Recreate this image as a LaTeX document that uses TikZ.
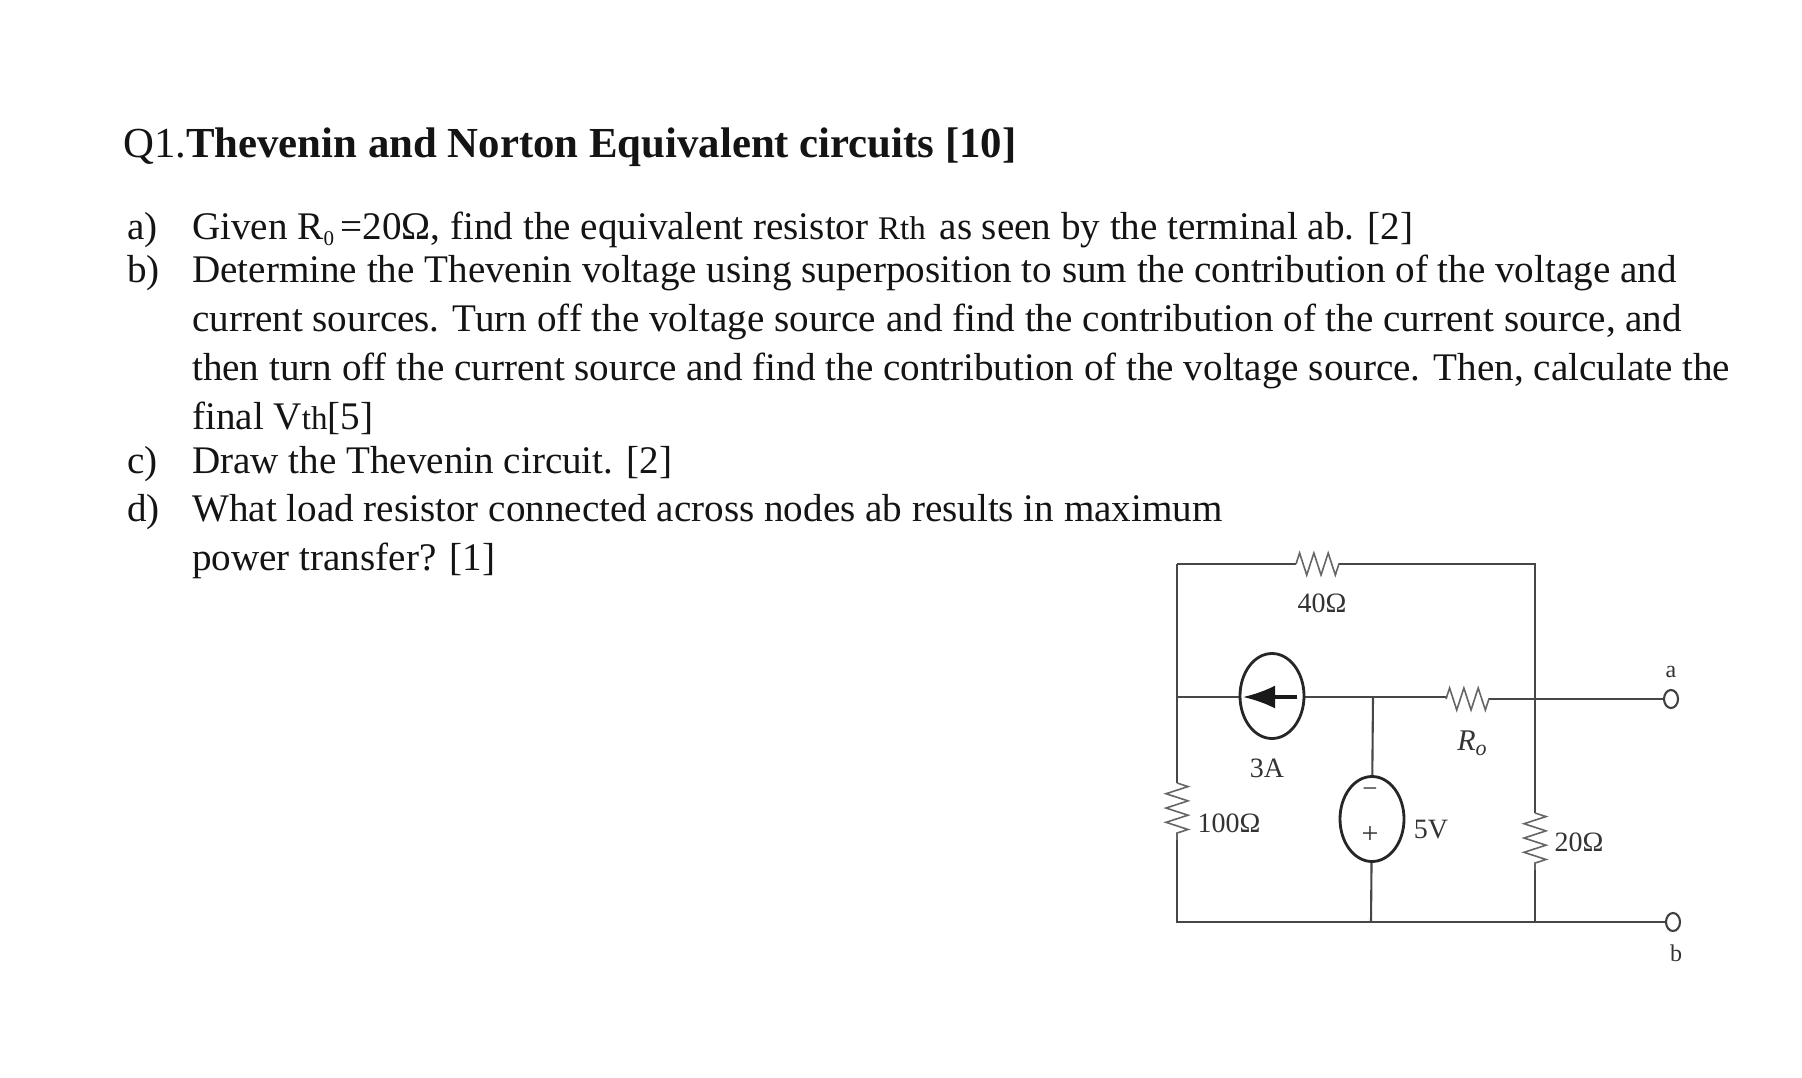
\documentclass[tikz,border=0pt]{standalone}
\usepackage{fontspec}
\setmainfont{Liberation Serif}
\usetikzlibrary{decorations.pathmorphing,arrows.meta,shapes.geometric}
\tikzset{
 txt/.style={anchor=base west,inner sep=0pt,font=\fontsize{39.1}{42}\selectfont,text=black!92},
 wire/.style={line width=2.1pt,draw=black!72},
 res/.style={line width=1.6pt,draw=black!60,line join=miter,decorate,decoration={zigzag,segment length=14.3pt,amplitude=11pt}},
 src/.style={ellipse,draw=black!85,line width=2.8pt,minimum width=64pt,minimum height=85pt,inner sep=0pt,fill=white},
 term/.style={ellipse,draw=black!75,line width=2.1pt,minimum width=14pt,minimum height=18pt,inner sep=0pt,fill=white},
 lab/.style={inner sep=0pt,text=black!80,font=\fontsize{27}{30}\selectfont},
}
\newcommand{\sm}[1]{{\fontsize{33}{35}\selectfont #1}}
\begin{document}
\begin{tikzpicture}[x=1pt,y=-1pt]
\useasboundingbox[fill=white] (0,0) rectangle (1802,1078);
\node[txt,font=\fontsize{42.8}{46}\selectfont] (q) at (123,158) {Q1.\textbf{Thevenin and Norton Equivalent circuits [10]}};
\node[txt] (al) at (127,240) {a)};
\node[txt] (at) at (192,240) {Given R\raisebox{-6pt}{\fontsize{21}{21}\selectfont 0}\,=20Ω, find the equivalent resistor \sm{Rth}\hspace{4pt} as seen by the terminal ab. [2]};
\node[txt] (bl) at (127,282) {b)};
\node[txt] (b1) at (192,282) {Determine the Thevenin voltage using superposition to sum the contribution of the voltage and};
\node[txt] (b2) at (192,331) {current sources. Turn off the voltage source and find the contribution of the current source, and};
\node[txt] (b3) at (192,380) {then turn off the current source and find the contribution of the voltage source. Then, calculate the};
\node[txt] (b4) at (192,429) {final V\sm{th}[5]};
\node[txt] (cl) at (127,473) {c)};
\node[txt] (c1) at (192,473) {Draw the Thevenin circuit. [2]};
\node[txt] (dl) at (127,521) {d)};
\node[txt] (d1) at (192,521) {What load resistor connected across nodes ab results in maximum};
\node[txt] (d2) at (192,570) {power transfer? [1]};
% circuit nodes
\coordinate (tl) at (1177,564);
\coordinate (tr) at (1535,564);
\coordinate (ml) at (1177,697);
\coordinate (mj) at (1373,697);
\coordinate (mr) at (1535,699);
\coordinate (bl2) at (1177,922);
\coordinate (bm) at (1371,922);
\coordinate (br) at (1535,922);
\coordinate (r40a) at (1296,564);
\coordinate (r40b) at (1339,564);
\coordinate (roa) at (1446,699);
\coordinate (rob) at (1489,699);
\coordinate (r100a) at (1177,783);
\coordinate (r100b) at (1177,840);
\coordinate (r20a) at (1535,813);
\coordinate (r20b) at (1535,870);
\node[term] (ta) at (1671,699) {};
\node[term] (tb) at (1673,922) {};
\draw[wire] (tl) -- (r40a) (r40b) -- (tr) -- (r20a);
\draw[wire] (r20b) -- (br);
\draw[wire] (tl) -- (r100a) (r100b) -- (bl2) -- (tb);
\draw[wire] (ml) -- (mj) -- (1446,697) (rob) -- (ta);
\draw[res] (r40a) -- (r40b);
\draw[res] (roa) -- (rob);
\draw[res] (r100a) -- (r100b);
\draw[res] (r20a) -- (r20b);
\draw[wire] (mj) -- (bm);
\node[src] (cs) at (1272,696) {};
\node[src] (vs) at (1372,819) {};
\coordinate (arS) at (1297,697);
\coordinate (arE) at (1243,697);
\draw[line width=3.2pt,draw=black!90,-{Latex[length=32pt,width=23pt]}] (arS) -- (arE);
\node[lab,font=\fontsize{27}{28}\selectfont] (minus) at (1370,793) {−};
\node[lab,font=\fontsize{30}{32}\selectfont] (plus) at (1370,835) {+};
\node[lab] (l40) at (1322,603) {\fontsize{28}{30}\selectfont 40Ω};
\node[lab] (l3a) at (1267,768) {\fontsize{28}{30}\selectfont 3A};
\node[lab] (lro) at (1472,743) {\fontsize{30}{32}\selectfont\textit{R\raisebox{-5pt}{\fontsize{22}{22}\selectfont o}}};
\node[lab] (l100) at (1229,823) {\fontsize{28}{30}\selectfont 100Ω};
\node[lab] (l5v) at (1431,830) {\fontsize{28}{30}\selectfont 5V};
\node[lab] (l20) at (1579,842) {\fontsize{28}{30}\selectfont 20Ω};
\node[lab,font=\fontsize{24}{26}\selectfont] (la) at (1671,672) {a};
\node[lab,font=\fontsize{24}{26}\selectfont] (lb) at (1676,953) {b};
\end{tikzpicture}
\end{document}
